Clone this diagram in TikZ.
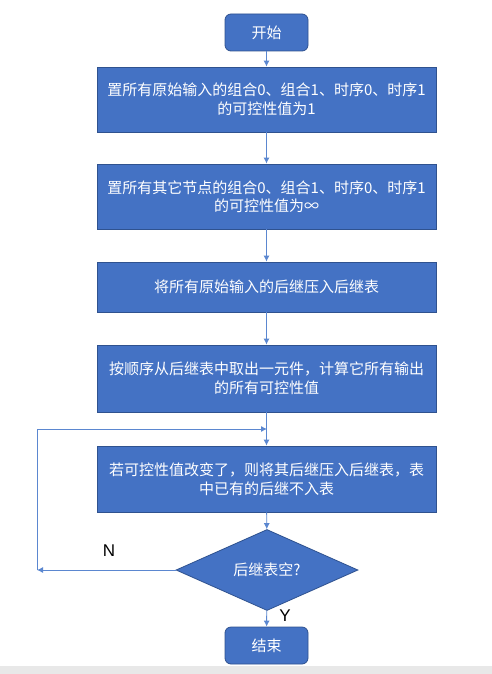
\documentclass[tikz,border=0pt]{standalone}
\usepackage{fontspec}
\setmainfont{Noto Sans CJK SC}
\newfontfamily\latinfont{Liberation Sans}
\usetikzlibrary{arrows.meta,shapes.geometric}

\definecolor{boxfill}{HTML}{4472C4}
\definecolor{boxline}{HTML}{2F528F}
\definecolor{flowline}{HTML}{5B87D0}
\definecolor{barfill}{HTML}{E8E8E8}

\tikzset{
  procbox/.style={
    rectangle,
    draw=boxline,
    fill=boxfill,
    line width=0.8pt,
    text=white,
    align=center,
    minimum width=339pt,
    font=\fontsize{15}{18.5}\selectfont
  },
  termbox/.style={
    procbox,
    rounded corners=6pt,
    minimum width=83pt
  },
  decision/.style={
    diamond,
    draw=boxline,
    fill=boxfill,
    line width=0.8pt,
    text=white,
    inner sep=0pt,
    minimum width=182pt,
    minimum height=80pt,
    font=\fontsize{15}{18.5}\selectfont
  },
  flow/.style={
    draw=flowline,
    line width=0.9pt,
    -{Latex[length=6pt,width=6pt]}
  },
  yesno/.style={
    font=\latinfont\fontsize{17}{17}\selectfont
  }
}

\begin{document}
\begin{tikzpicture}[
  x=1pt,
  y=-1pt
]
  \useasboundingbox (0,0) rectangle (492,674);

  % Grauer Streifen unten
  \fill[barfill] (0,666) rectangle (492,674);

  % Knoten
  \node[termbox, minimum height=37pt] (start) at (266.5,32.5) {开始};
  \node[procbox, minimum height=65pt] (init1) at (266.5,99.5)
    {置所有原始输入的组合0、组合1、时序0、时序1\\的可控性值为1};
  \node[procbox, minimum height=65pt] (init2) at (266.5,196.5)
    {置所有其它节点的组合0、组合1、时序0、时序1\\的可控性值为∞};
  \node[procbox, minimum height=50pt] (push) at (266.5,287)
    {将所有原始输入的后继压入后继表};
  \node[procbox, minimum height=67pt] (fetch) at (266.5,378.5)
    {按顺序从后继表中取出一元件，计算它所有输出\\的所有可控性值};
  \node[procbox, minimum height=66pt] (update) at (266.5,479)
    {若可控性值改变了，则将其后继压入后继表，表\\中已有的后继不入表};
  \node[decision] (empty) at (267,570) {后继表空?};
  \node[termbox, minimum height=37pt] (stop) at (266.5,645.5) {结束};

  % Hilfspunkte der Schleife
  \coordinate (loopL) at (37,570);
  \coordinate (join) at (267,429);

  % Verbindungen
  \draw[flow] (start) -- (init1);
  \draw[flow] (init1) -- (init2);
  \draw[flow] (init2) -- (push);
  \draw[flow] (push) -- (fetch);
  \draw[flow] (fetch) -- (update);
  \draw[flow] (update) -- (empty);
  \draw[flow] (empty) -- (stop);
  \draw[flow] (empty.west) -- (loopL);
  \draw[flow] (loopL) |- (join);

  % Beschriftungen
  \node[yesno] (no) at (109,551) {N};
  \node[yesno] (yes) at (285,616) {Y};
\end{tikzpicture}
\end{document}
